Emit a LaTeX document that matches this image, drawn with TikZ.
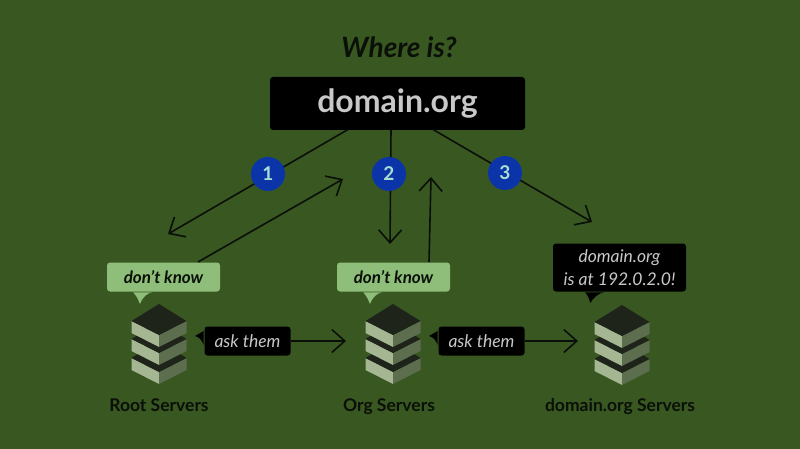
\documentclass[tikz,border=0pt]{standalone}
\usepackage{fontspec}
\setmainfont{Lato}
\usetikzlibrary{arrows.meta,positioning}
\definecolor{bggreen}{RGB}{57,87,33}
\definecolor{bubblegreen}{RGB}{143,190,122}
\definecolor{inkdark}{RGB}{10,16,8}
\definecolor{numblue}{RGB}{10,52,168}
\definecolor{numtext}{RGB}{170,222,212}
\definecolor{labelgrey}{RGB}{200,200,200}
\definecolor{platetop}{RGB}{30,36,26}
\definecolor{plateleft}{RGB}{165,182,146}
\definecolor{plateright}{RGB}{92,110,78}

\newcommand{\plate}[1]{%
  \fill[plateleft] (-27.5,#1+17) -- (0,#1+31) -- (0,#1+43) -- (-27.5,#1+29) -- cycle;
  \fill[plateright] (27.5,#1+17) -- (0,#1+31) -- (0,#1+43) -- (27.5,#1+29) -- cycle;
  \fill[platetop] (0,#1) -- (27.5,#1+17) -- (0,#1+31) -- (-27.5,#1+17) -- cycle;
}
\tikzset{
  serverstack/.pic={\plate{37} \plate{18} \plate{0}},
  speech/.style={rounded corners=3pt,inner sep=0pt,align=center},
  dontknow/.style={speech,fill=bubblegreen,text=inkdark,minimum width=113pt,minimum height=29pt,font=\itshape\bfseries\fontsize{17}{22}\selectfont},
  saysblack/.style={speech,fill=black,text=labelgrey,minimum width=86pt,minimum height=29pt,font=\itshape\fontsize{17.5}{23}\selectfont},
  hoplabel/.style={circle,fill=numblue,text=numtext,minimum size=34pt,inner sep=0pt,font=\bfseries\fontsize{19}{19}\selectfont},
  serverlabel/.style={text=inkdark,anchor=base,font=\bfseries\fontsize{17.5}{20}\selectfont},
}

\begin{document}
\begin{tikzpicture}[x=1pt,y=-1pt,->,>={Straight Barb[length=13pt,width=23pt]},line width=1.6pt,inkdark]

  \fill[bggreen] (0,0) rectangle (800,449);

  \node[text=inkdark,font=\itshape\bfseries\fontsize{28}{32}\selectfont] (whereis) at (399,47) {Where is?};
  \node[fill=black,rounded corners=3pt,minimum width=255pt,minimum height=53pt,inner sep=0pt,
        text=labelgrey,font=\bfseries\fontsize{32}{36}\selectfont] (domain) at (397.5,103.5) {domain.org};

  \node[dontknow] (rootsays) at (163.5,277) {don't know};
  \node[dontknow] (orgsays) [right of=rootsays,node distance=230pt] {don't know};
  \node[saysblack] (rootask) at (247.5,341) {ask them};
  \node[saysblack] (orgask) [right of=rootask,node distance=234pt] {ask them};
  \node[saysblack,minimum width=133pt,minimum height=48pt] (answer) at (619.5,267.5) {domain.org\\is at 192.0.2.0!};

  \pic (rootstack) at (159,304) {serverstack};
  \pic (orgstack) at (393,304) {serverstack};
  \pic (domainstack) at (622,305) {serverstack};

  \node[serverlabel] (rootname) at (159,411) {Root Servers};
  \node[serverlabel] (orgname) at (389,411) {Org Servers};
  \node[serverlabel] (domainname) at (620,411) {domain.org Servers};

  % bubble tails
  \fill[bubblegreen,draw=none] ([xshift=27pt]rootsays.south west) .. controls (137,297) .. (140,304)
    .. controls (143,296) and (148,293) .. ([xshift=46pt]rootsays.south west) -- cycle;
  \fill[bubblegreen,draw=none] ([xshift=27pt]orgsays.south west) .. controls (367,297) .. (370,304)
    .. controls (373,296) and (378,293) .. ([xshift=46pt]orgsays.south west) -- cycle;
  \fill[black,draw=none] ([xshift=33pt]answer.south west) .. controls (588,296) .. (590.5,303)
    .. controls (594,296) and (600,293) .. ([xshift=52pt]answer.south west) -- cycle;
  \fill[black,draw=none] ([yshift=10pt]rootask.west) -- (195,336) .. controls (199,337) and (202,340) .. ([yshift=-4pt]rootask.west) -- cycle;
  \fill[black,draw=none] ([yshift=10pt]orgask.west) -- (429,336) .. controls (433,337) and (436,340) .. ([yshift=-4pt]orgask.west) -- cycle;

  % free ends of the arrows
  \coordinate (oneout) at (348,129.5);
  \coordinate (oneend) at (168,234);
  \coordinate (twoout) at (391,129.5);
  \coordinate (twoend) at (390,244);
  \coordinate (threeout) at (433,129.5);
  \coordinate (threeend) at (592,222);
  \coordinate (rootfrom) at (198,262);
  \coordinate (rootend) at (343,179);
  \coordinate (orgfrom) at (429,262);
  \coordinate (orgend) at (431,177);
  \coordinate (rootnext) at (346,341);
  \coordinate (orgnext) at (578,341);

  \path
  (oneout) edge (oneend)
  (twoout) edge (twoend)
  (threeout) edge (threeend)
  (rootfrom) edge (rootend)
  (orgfrom) edge (orgend)
  (rootask) edge (rootnext)
  (orgask) edge (orgnext);

  \node[hoplabel] (one) at (268,174) {1};
  \node[hoplabel] (two) at (389,174) {2};
  \node[hoplabel] (three) at (505,173) {3};

\end{tikzpicture}
\end{document}
